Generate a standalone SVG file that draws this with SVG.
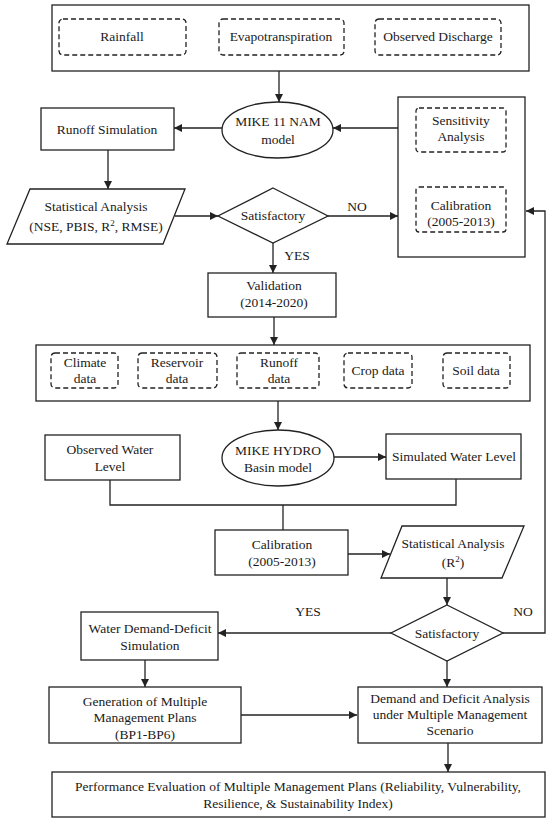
<svg xmlns="http://www.w3.org/2000/svg" width="550" height="822" viewBox="0 0 550 822">
<style>
.b{fill:#fff;stroke:#222;stroke-width:1.3}
.d{fill:#fff;stroke:#222;stroke-width:1.3;stroke-dasharray:5 3}
.c{fill:none;stroke:#222;stroke-width:1.3}
text{font-family:"Liberation Serif","Times New Roman",serif;font-size:13.5px;fill:#1a1a1a;text-anchor:middle}
</style>
<defs>
<marker id="ah" viewBox="0 0 10 10" refX="10" refY="5" markerWidth="8" markerHeight="8" markerUnits="userSpaceOnUse" orient="auto">
<path d="M0,0 L10,5 L0,10 z" fill="#222"/>
</marker>
</defs>
<rect width="550" height="822" fill="#fff"/>

<g id="connectors">
<path class="c" d="M279,71 V102" marker-end="url(#ah)"/>
<path class="c" d="M222,128 H174" marker-end="url(#ah)"/>
<path class="c" d="M398,128 H333" marker-end="url(#ah)"/>
<path class="c" d="M462,152 V187" marker-end="url(#ah)"/>
<path class="c" d="M108,150 V189" marker-end="url(#ah)"/>
<path class="c" d="M175,216 H218" marker-end="url(#ah)"/>
<path class="c" d="M328,216 H398" marker-end="url(#ah)"/>
<path class="c" d="M273,243 V273" marker-end="url(#ah)"/>
<path class="c" d="M274,317 V345" marker-end="url(#ah)"/>
<path class="c" d="M278,401 V430" marker-end="url(#ah)"/>
<path class="c" d="M334,457 H386" marker-end="url(#ah)"/>
<path class="c" d="M110,480 V505 H456 V479"/>
<path class="c" d="M283,505 V530"/>
<path class="c" d="M348,554 H390" marker-end="url(#ah)"/>
<path class="c" d="M447,578 V605" marker-end="url(#ah)"/>
<path class="c" d="M391,633 H218" marker-end="url(#ah)"/>
<path class="c" d="M503,633 H545 V211 H526" marker-end="url(#ah)"/>
<path class="c" d="M145,660 V687" marker-end="url(#ah)"/>
<path class="c" d="M447,661 V687" marker-end="url(#ah)"/>
<path class="c" d="M241,715 H357" marker-end="url(#ah)"/>
<path class="c" d="M448,743 V772" marker-end="url(#ah)"/>
<text x="357" y="211">NO</text>
<text x="297" y="260">YES</text>
<text x="308" y="616">YES</text>
<text x="523" y="616">NO</text>
</g>

<g id="inputs">
<rect class="b" x="52" y="5" width="477" height="66"/>
<g id="rainfall"><rect class="d" x="59" y="19" width="127" height="36" rx="4"/><text x="122" y="41">Rainfall</text></g>
<g id="evapo"><rect class="d" x="219" y="19" width="125" height="36" rx="4"/><text x="281" y="41">Evapotranspiration</text></g>
<g id="discharge"><rect class="d" x="375" y="19" width="126" height="36" rx="4"/><text x="438" y="41">Observed Discharge</text></g>
</g>

<g id="nam">
<ellipse class="b" cx="277.5" cy="130" rx="55.5" ry="28"/>
<text x="278" y="126">MIKE 11 NAM</text>
<text x="278" y="144">model</text>
</g>

<g id="runoff-sim">
<rect class="b" x="41" y="108" width="133" height="42"/>
<text x="107" y="134">Runoff Simulation</text>
</g>

<g id="calib-group">
<rect class="b" x="398" y="97" width="127" height="160"/>
<g id="sensitivity"><rect class="d" x="416" y="108" width="90" height="44" rx="3"/><text x="461" y="125">Sensitivity</text><text x="461" y="141">Analysis</text></g>
<g id="calibration1"><rect class="d" x="416" y="187" width="90" height="45" rx="3"/><text x="461" y="210">Calibration</text><text x="461" y="226">(2005-2013)</text></g>
</g>

<g id="stat1">
<path class="b" d="M30,189 H185 L163,244 H7 Z"/>
<text x="96" y="211">Statistical Analysis</text>
<text x="96" y="231">(NSE, PBIS, R<tspan font-size="9" dy="-5">2</tspan><tspan dy="5">, RMSE)</tspan></text>
</g>

<g id="sat1">
<path class="b" d="M273,188 L328,216 L273,243 L218,216 Z"/>
<text x="273" y="220">Satisfactory</text>
</g>

<g id="validation">
<rect class="b" x="208" y="273" width="128" height="44"/>
<text x="274" y="290">Validation</text>
<text x="274" y="307">(2014-2020)</text>
</g>

<g id="data">
<rect class="b" x="36" y="345" width="494" height="56"/>
<g id="climate"><rect class="d" x="51" y="353" width="67" height="35" rx="4"/><text x="85" y="367">Climate</text><text x="85" y="383">data</text></g>
<g id="reservoir"><rect class="d" x="138" y="353" width="79" height="35" rx="4"/><text x="177" y="367">Reservoir</text><text x="177" y="383">data</text></g>
<g id="runoffdata"><rect class="d" x="237" y="353" width="82" height="35" rx="4"/><text x="279" y="367">Runoff</text><text x="279" y="383">data</text></g>
<g id="crop"><rect class="d" x="344" y="353" width="68" height="35" rx="4"/><text x="378" y="375">Crop data</text></g>
<g id="soil"><rect class="d" x="443" y="353" width="67" height="35" rx="4"/><text x="476" y="375">Soil data</text></g>
</g>

<g id="hydro">
<ellipse class="b" cx="278" cy="458" rx="56" ry="28"/>
<text x="278" y="455">MIKE HYDRO</text>
<text x="278" y="472">Basin model</text>
</g>

<g id="obs-wl">
<rect class="b" x="45" y="435" width="135" height="45"/>
<text x="110" y="454">Observed Water</text>
<text x="110" y="471">Level</text>
</g>

<g id="sim-wl">
<rect class="b" x="386" y="434" width="135" height="45"/>
<text x="454" y="461">Simulated Water Level</text>
</g>

<g id="calibration2">
<rect class="b" x="215" y="530" width="133" height="45"/>
<text x="282" y="549">Calibration</text>
<text x="282" y="566">(2005-2013)</text>
</g>

<g id="stat2">
<path class="b" d="M402,526 H524 L502,578 H381 Z"/>
<text x="453" y="548">Statistical Analysis</text>
<text x="453" y="567">(R<tspan font-size="9" dy="-5">2</tspan><tspan dy="5">)</tspan></text>
</g>

<g id="sat2">
<path class="b" d="M447,605 L503,633 L447,661 L391,633 Z"/>
<text x="447" y="638">Satisfactory</text>
</g>

<g id="wdd">
<rect class="b" x="81" y="612" width="137" height="48"/>
<text x="150" y="633">Water Demand-Deficit</text>
<text x="150" y="650">Simulation</text>
</g>

<g id="generation">
<rect class="b" x="49" y="687" width="192" height="56"/>
<text x="145" y="706">Generation of Multiple</text>
<text x="145" y="722">Management Plans</text>
<text x="145" y="739">(BP1-BP6)</text>
</g>

<g id="demand">
<rect class="b" x="358" y="687" width="184" height="56"/>
<text x="450" y="703">Demand and Deficit Analysis</text>
<text x="450" y="719">under Multiple Management</text>
<text x="450" y="735">Scenario</text>
</g>

<g id="performance">
<rect class="b" x="52" y="772" width="493" height="45"/>
<text x="298" y="791">Performance Evaluation of Multiple Management Plans (Reliability, Vulnerability,</text>
<text x="298" y="808">Resilience, &amp; Sustainability Index)</text>
</g>
</svg>
